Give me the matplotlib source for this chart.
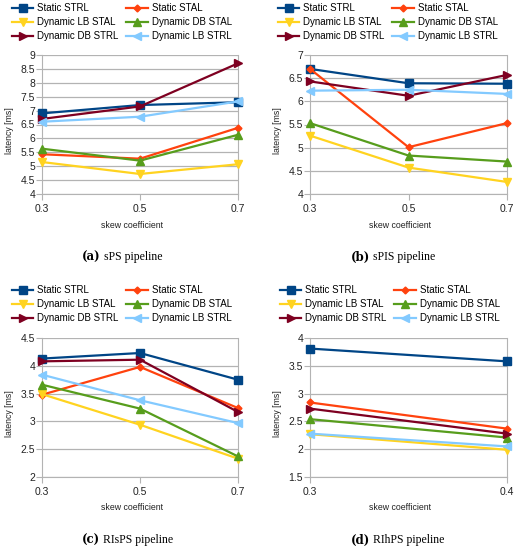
import matplotlib
matplotlib.use('Agg')
from matplotlib import pyplot as plt

plt.rcParams['font.family'] = ['Liberation Sans', 'DejaVu Sans']

series = ['Static STRL', 'Static STAL', 'Dynamic LB STAL',
          'Dynamic DB STAL', 'Dynamic DB STRL', 'Dynamic LB STRL']
colors = ['#004586', '#ff420e', '#ffd320', '#579d1c', '#7e0021', '#83caff']
markers = ['s', 'D', 'v', '^', '>', '<']
msizes = [5.5, 3.5, 6, 6, 6, 6]

skew_3 = ['0.3', '0.5', '0.7']
skew_2 = ['0.3', '0.4']

# latency [ms] per pipeline, one list per series (same order as `series`)
sps = [[6.9, 7.2, 7.3],
       [5.43, 5.27, 6.38],
       [5.15, 4.72, 5.07],
       [5.63, 5.2, 6.13],
       [6.7, 7.15, 8.7],
       [6.6, 6.78, 7.33]]
spis = [[6.7, 6.39, 6.38],
        [6.7, 5.01, 5.53],
        [5.26, 4.57, 4.26],
        [5.53, 4.83, 4.7],
        [6.43, 6.12, 6.57],
        [6.23, 6.25, 6.16]]
risps = [[4.13, 4.23, 3.75],
         [3.48, 3.98, 3.24],
         [3.49, 2.94, 2.33],
         [3.66, 3.23, 2.37],
         [4.08, 4.11, 3.17],
         [3.84, 3.38, 2.97]]
rihps = [[3.81, 3.58],
         [2.84, 2.37],
         [2.27, 1.99],
         [2.54, 2.21],
         [2.73, 2.28],
         [2.28, 2.05]]

panels = [
    (sps, skew_3, (4, 9), [4, 4.5, 5, 5.5, 6, 6.5, 7, 7.5, 8, 8.5, 9], '(a)', 'sPS pipeline'),
    (spis, skew_3, (4, 7), [4, 4.5, 5, 5.5, 6, 6.5, 7], '(b)', 'sPIS pipeline'),
    (risps, skew_3, (2, 4.5), [2, 2.5, 3, 3.5, 4, 4.5], '(c)', 'RIsPS pipeline'),
    (rihps, skew_2, (1.5, 4), [1.5, 2, 2.5, 3, 3.5, 4], '(d)', 'RIhPS pipeline'),
]

W, H = 520, 550
fig = plt.figure(figsize=(5.2, 5.5), dpi=100)

# pixel boxes: left, top, right, bottom
boxes = [(42, 55, 238, 194), (310, 55, 507, 194),
         (42, 338, 238, 477), (310, 338, 507, 477)]
# legend upper-left corner in pixels
leg_pos = [(12, 3), (278, 3), (12, 285), (280, 285)]
grey = '#b3b3b3'

for (data, cats, ylim, yticks, tag, name), (l, t, r, b), (lx, ly) in zip(panels, boxes, leg_pos):
    ax = fig.add_axes([l / W, 1 - b / H, (r - l) / W, (b - t) / H])
    xs = list(range(len(cats)))
    handles = []
    for vals, lab, c, m, ms in zip(data, series, colors, markers, msizes):
        h, = ax.plot(xs, vals, color=c, marker=m, markersize=ms, linewidth=1.6,
                     label=lab, clip_on=False, zorder=3)
        handles.append(h)
    ax.set_xlim(0, len(cats) - 1)
    ax.set_ylim(*ylim)
    ax.set_xticks(xs)
    ax.set_xticklabels(cats)
    ax.set_yticks(yticks)
    ax.set_yticklabels(['%g' % v for v in yticks])
    ax.yaxis.grid(True, color=grey, linewidth=0.9)
    ax.set_axisbelow(True)
    for s in ['left', 'right', 'bottom']:
        ax.spines[s].set_color(grey)
    ax.spines['top'].set_visible(False)
    ax.tick_params(axis='both', colors=grey, labelcolor='#222222',
                   labelsize=7.5, length=4, width=0.8)
    ax.tick_params(axis='x', pad=3)
    ax.tick_params(axis='y', pad=1)
    order = [0, 2, 4, 1, 3, 5]
    ax.legend([handles[i] for i in order], [series[i] for i in order],
              ncol=2, loc='upper left', bbox_to_anchor=(lx / W, 1 - ly / H),
              bbox_transform=fig.transFigure,
              frameon=False, fontsize=7.0, handlelength=2.2,
              columnspacing=0.8, labelspacing=0.42, handletextpad=0.4,
              borderpad=0, borderaxespad=0)

    # axis titles
    fig.text((l - 32) / W, 1 - 131 / H - (t - 55) / H, 'latency [ms]', rotation=90,
             ha='center', va='center', fontsize=6.3, color='#222222')
    fig.text((l + r) / 2 / W - 8 / W, 1 - (b + 31) / H, 'skew coefficient',
             ha='center', va='center', fontsize=6.3, color='#222222')

    # caption
    cx = (l + r) / 2 - 18
    cy = b + 63
    t1 = fig.text(cx / W - 40 / W, 1 - cy / H, tag, ha='left', va='center',
                  fontsize=8.5, fontweight='bold', family='DejaVu Serif')
    ax.annotate(' ' + name, xy=(1, 0.5), xycoords=t1, ha='left', va='center',
                fontsize=8.5, family='Liberation Serif', annotation_clip=False)

fig.savefig('out.png', dpi=100)
